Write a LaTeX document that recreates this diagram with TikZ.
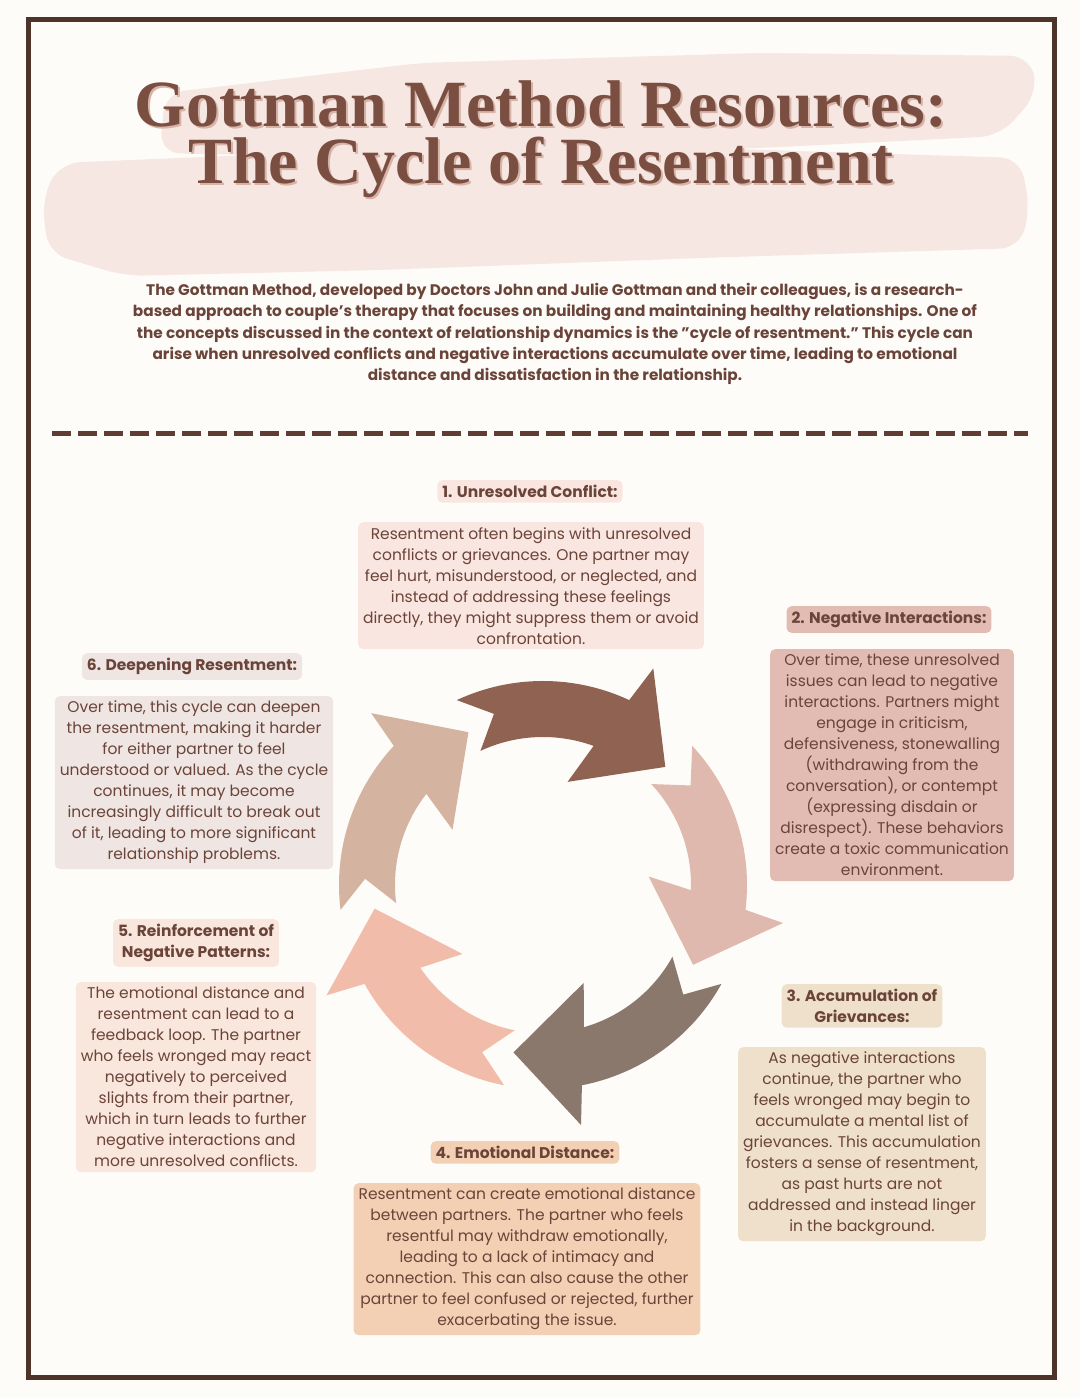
\documentclass[tikz,border=0pt]{standalone}
\usepackage{fontspec}
\setmainfont{Poppins}
\newfontfamily\titlefont{Liberation Serif}
\begin{document}
\definecolor{bg}{HTML}{FDFCF8}
\definecolor{ink}{HTML}{6B4439}
\definecolor{frame}{HTML}{4E3428}
\definecolor{brush}{HTML}{F6E7E2}
\definecolor{ttl}{HTML}{7A4F42}
\definecolor{tsh}{HTML}{D8B4A8}
\definecolor{aA}{HTML}{8F6252}
\definecolor{aB}{HTML}{DFB8AE}
\definecolor{aC}{HTML}{8B786C}
\definecolor{aD}{HTML}{F2BCAB}
\definecolor{aE}{HTML}{D4B4A0}
\definecolor{hA}{HTML}{FAE6E0}
\definecolor{hB}{HTML}{E2BCB2}
\definecolor{hC}{HTML}{EFE0CB}
\definecolor{hD}{HTML}{F3CFB4}
\definecolor{hE}{HTML}{F9E6DC}
\definecolor{hF}{HTML}{EFE6E3}
\newcommand{\cycarrow}[3]{%
  \begin{scope}[shift={(543,513)},rotate=#1]
  \fill[#2] (115:204) arc[start angle=115,end angle=65,radius=204] -- (63:243) -- (44:170) -- (76.6:106) -- (70:148) arc[start angle=70,end angle=115,radius=148] -- (106:178) -- cycle;
  \coordinate (#3) at (90:174);
  \end{scope}}
\begin{tikzpicture}[x=1pt,y=1pt,
  body/.style={align=center,font=\fontsize{15.5}{21}\selectfont,text=ink,rounded corners=5pt,inner sep=5pt,anchor=north},
  head/.style={align=center,font=\fontsize{15.5}{21}\selectfont\bfseries,text=ink,rounded corners=5pt,inner sep=5pt,anchor=north}]
\fill[bg] (0,0) rectangle (1080,1398);
\useasboundingbox (0,0) rectangle (1080,1398);
% brush strokes
\fill[brush,rounded corners=20pt] (165,1305) -- (420,1335) -- (760,1345) -- (1030,1342) -- (1038,1305) -- (1000,1262) -- (760,1250) -- (400,1240) -- (160,1245) -- cycle;
\fill[brush,rounded corners=20pt] (60,1235) -- (300,1245) -- (700,1250) -- (1020,1240) -- (1030,1190) -- (1020,1150) -- (700,1140) -- (380,1128) -- (125,1122) -- (48,1145) -- (42,1200) -- cycle;
% title
\node[font=\titlefont\fontsize{66}{57}\selectfont\bfseries,text=tsh,align=center] at (543,1257) {Gottman Method Resources:\\The Cycle of Resentment};
\node (title) [font=\titlefont\fontsize{66}{57}\selectfont\bfseries,text=ttl,align=center] at (541,1259) {Gottman Method Resources:\\The Cycle of Resentment};
% intro
\node (intro) [align=center,font=\fontsize{15.3}{21.2}\selectfont\bfseries,text=ink] at (555,1064) {The Gottman Method, developed by Doctors John and Julie Gottman and their colleagues, is a research-\\based approach to couple's therapy that focuses on building and maintaining healthy relationships. One of\\the concepts discussed in the context of relationship dynamics is the "cycle of resentment." This cycle can\\arise when unresolved conflicts and negative interactions accumulate over time, leading to emotional\\distance and dissatisfaction in the relationship.};
% dashed line
\coordinate (dl) at (52,964);
\coordinate (dr) at (1028,964);
\draw[ink!90!black,line width=5pt,dash pattern=on 19pt off 7pt] (dl) -- (dr);
% arrows
\cycarrow{0}{aA}{pA}
\cycarrow{-72}{aB}{pB}
\cycarrow{-144}{aC}{pC}
\cycarrow{-216}{aD}{pD}
\cycarrow{-288}{aE}{pE}
% block 1
\node (h1) [head,fill=hA] at (530,918) {1. Unresolved Conflict:};
\node (b1) [body,fill=hA] at (531,876) {Resentment often begins with unresolved\\conflicts or grievances. One partner may\\feel hurt, misunderstood, or neglected, and\\instead of addressing these feelings\\directly, they might suppress them or avoid\\confrontation.};
% block 2
\node (h2) [head,fill=hB] at (889,792) {2. Negative Interactions:};
\node (b2) [body,fill=hB] at (892,749) {Over time, these unresolved\\issues can lead to negative\\interactions. Partners might\\engage in criticism,\\defensiveness, stonewalling\\(withdrawing from the\\conversation), or contempt\\(expressing disdain or\\disrespect). These behaviors\\create a toxic communication\\environment.};
% block 3
\node (h3) [head,fill=hC] at (862,414) {3. Accumulation of\\Grievances:};
\node (b3) [body,fill=hC] at (862,351) {As negative interactions\\continue, the partner who\\feels wronged may begin to\\accumulate a mental list of\\grievances. This accumulation\\fosters a sense of resentment,\\as past hurts are not\\addressed and instead linger\\in the background.};
% block 4
\node (h4) [head,fill=hD] at (525,257) {4. Emotional Distance:};
\node (b4) [body,fill=hD] at (527,215) {Resentment can create emotional distance\\between partners. The partner who feels\\resentful may withdraw emotionally,\\leading to a lack of intimacy and\\connection. This can also cause the other\\partner to feel confused or rejected, further\\exacerbating the issue.};
% block 5
\node (h5) [head,fill=hE] at (196,479) {5. Reinforcement of\\Negative Patterns:};
\node (b5) [body,fill=hE] at (196,416) {The emotional distance and\\resentment can lead to a\\feedback loop. The partner\\who feels wronged may react\\negatively to perceived\\slights from their partner,\\which in turn leads to further\\negative interactions and\\more unresolved conflicts.};
% block 6
\node (h6) [head,fill=hF] at (192,745) {6. Deepening Resentment:};
\node (b6) [body,fill=hF] at (194,702) {Over time, this cycle can deepen\\the resentment, making it harder\\for either partner to feel\\understood or valued. As the cycle\\continues, it may become\\increasingly difficult to break out\\of it, leading to more significant\\relationship problems.};
% frame
\draw[frame,line width=5pt] (28,20) rectangle (1054,1378);
\end{tikzpicture}
\end{document}
